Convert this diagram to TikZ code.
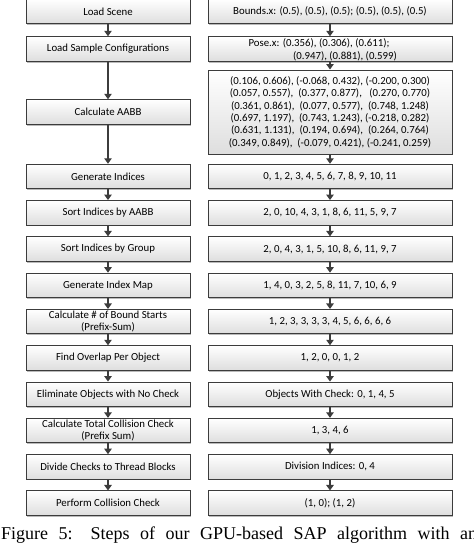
\documentclass[tikz,border=0pt]{standalone}
\usepackage{fontspec}
\setmainfont{Carlito}
\newfontfamily\capfont{Liberation Serif}
\usetikzlibrary{arrows.meta,shadows}
\definecolor{edge}{HTML}{3C3C3C}
\begin{document}
\begin{tikzpicture}[x=1pt,y=-1pt,
  box/.style={draw=edge, line width=1pt, top color=white, bottom color=black!13,
    drop shadow={shadow xshift=1.3pt, shadow yshift=-1.3pt, fill=black!45, opacity=0.6},
    font=\fontsize{10.8}{12.4}\selectfont, align=center, inner sep=0pt},
  lbox/.style={box, minimum width=164pt, minimum height=24.5pt},
  rbox/.style={box, minimum width=244pt, minimum height=24.5pt},
  arr/.style={draw=edge, line width=1.2pt, -{Triangle[length=5.5pt,width=7.5pt]}},
  plain/.style={inner sep=0pt, font=\fontsize{10.8}{12.4}\selectfont}]
\path[use as bounding box, fill=white] (0,0) rectangle (474,544);
\clip (0,0) rectangle (474,544);
% left column
\node[lbox] (l1) at (108,11.5) {Load Scene};
\node[lbox] (l2) at (108,49) {Load Sample Configurations};
\node[lbox] (l3) at (108,112) {Calculate AABB};
\node[lbox] (l4) at (108,176.5) {Generate Indices};
\node[lbox] (l5) at (108,212.8) {Sort Indices by AABB};
\node[lbox] (l6) at (108,249.1) {Sort Indices by Group};
\node[lbox] (l7) at (108,285.4) {Generate Index Map};
\node[lbox] (l8) at (108,321.7) {Calculate \# of Bound Starts\\(Prefix-Sum)};
\node[lbox] (l9) at (108,358.0) {Find Overlap Per Object};
\node[lbox] (l10) at (108,394.3) {Eliminate Objects with No Check};
\node[lbox] (l11) at (108,430.6) {Calculate Total Collision Check\\(Prefix Sum)};
\node[lbox] (l12) at (108,466.9) {Divide Checks to Thread Blocks};
\node[lbox] (l13) at (108,503.2) {Perform Collision Check};
% right column
\node[rbox] (r1) at (330,11.5) {Bounds.x: (0.5), (0.5), (0.5); (0.5), (0.5), (0.5)};
\node[rbox] (r2) at (330,49) {};
\node[plain] (p1) at (319,43) {Pose.x: (0.356), (0.306), (0.611);};
\node[plain] (p2) at (345,56) {(0.947), (0.881), (0.599)};
\node[rbox, minimum height=84pt] (r3) at (330,112) {(0.106, 0.606), (-0.068, 0.432), (-0.200, 0.300)\\
(0.057, 0.557),\ \ (0.377, 0.877),\ \ \ (0.270, 0.770)\\
(0.361, 0.861),\ \ (0.077, 0.577),\ \ (0.748, 1.248)\\
(0.697, 1.197),\ \ (0.743, 1.243), (-0.218, 0.282)\\
(0.631, 1.131),\ \ (0.194, 0.694),\ \ (0.264, 0.764)\\
(0.349, 0.849),\ \ (-0.079, 0.421), (-0.241, 0.259)};
\node[rbox] (r4) at (330,176.5) {0, 1, 2, 3, 4, 5, 6, 7, 8, 9, 10, 11};
\node[rbox] (r5) at (330,212.8) {2, 0, 10, 4, 3, 1, 8, 6, 11, 5, 9, 7};
\node[rbox] (r6) at (330,249.1) {2, 0, 4, 3, 1, 5, 10, 8, 6, 11, 9, 7};
\node[rbox] (r7) at (330,285.4) {1, 4, 0, 3, 2, 5, 8, 11, 7, 10, 6, 9};
\node[rbox] (r8) at (330,321.7) {1, 2, 3, 3, 3, 3, 4, 5, 6, 6, 6, 6};
\node[rbox] (r9) at (330,358.0) {1, 2, 0, 0, 1, 2};
\node[rbox] (r10) at (330,394.3) {Objects With Check: 0, 1, 4, 5};
\node[rbox] (r11) at (330,430.6) {1, 3, 4, 6};
\node[rbox] (r12) at (330,466.9) {Division Indices: 0, 4};
\node[rbox] (r13) at (330,503.2) {(1, 0); (1, 2)};
% arrows
\foreach \a/\b in {1/2,2/3,3/4,4/5,5/6,6/7,7/8,8/9,9/10,10/11,11/12,12/13}{
  \draw[arr] (l\a.south) -- (l\b.north);
  \draw[arr] (r\a.south) -- (r\b.north);
}
% caption
\node[anchor=base west, inner sep=0pt, font=\capfont\fontsize{18}{20}\selectfont] (cap) at (1,539)
  {\makebox[476pt][s]{Figure 5: Steps of our GPU-based SAP algorithm with an}};
\end{tikzpicture}
\end{document}
